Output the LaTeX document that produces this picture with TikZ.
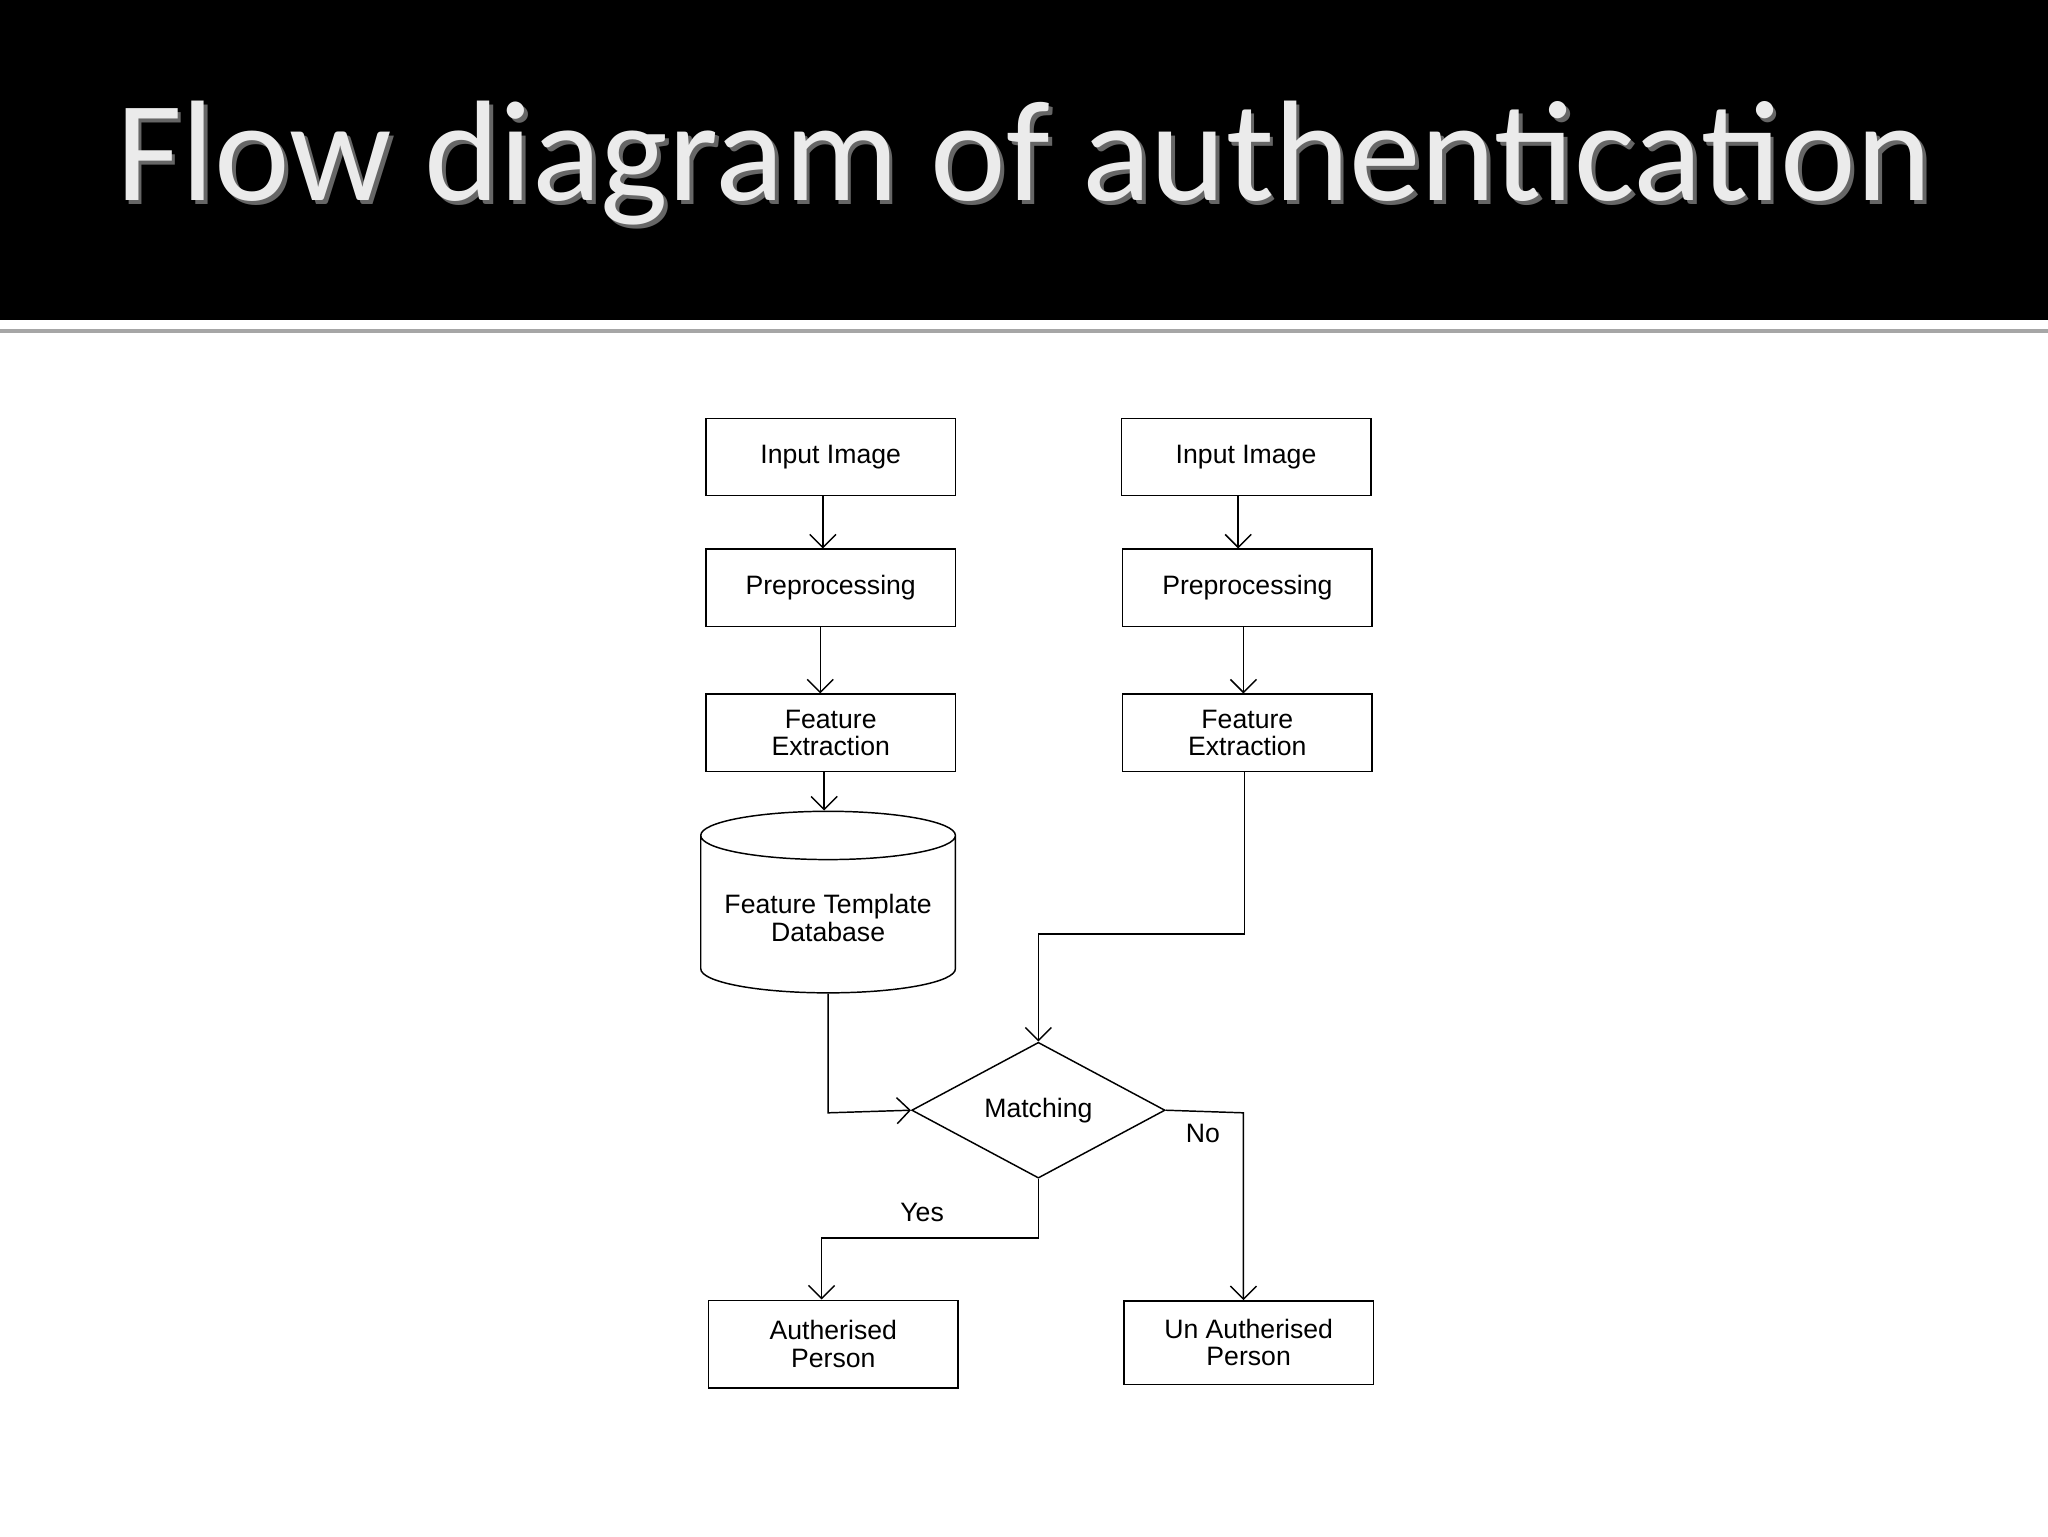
\documentclass[tikz,border=0pt]{standalone}
\usepackage{fontspec}
\setmainfont{Liberation Sans}
\newfontfamily\titlefont{Carlito}[Scale=1]
\usetikzlibrary{shapes.geometric,arrows.meta}
\begin{document}
\begin{tikzpicture}[x=0.25mm,y=-0.25mm,
  box/.style={draw,thick,minimum width=191*0.25mm,align=center,font=\fontsize{14.5}{15}\selectfont,inner sep=0pt},
  arr/.style={thick,-{Straight Barb[length=2.5mm,width=5mm]}},
  lbl/.style={font=\fontsize{14.5}{15}\selectfont}]
\useasboundingbox (0,0) rectangle (1568,1176);
\fill[black] (0,0) rectangle (1568,245);
\fill[gray!70] (0,252) rectangle (1568,255);
\node[text=black!60,font=\titlefont\fontsize{78}{80}\selectfont] at (787,128) {Flow diagram of authentication};
\node[text=black!8,font=\titlefont\fontsize{78}{80}\selectfont] (title) at (784,125) {Flow diagram of authentication};
\node[box,minimum height=59*0.25mm] (in1) at (636,350) {Input Image};
\node[box,minimum height=59*0.25mm] (pp1) at (636,450) {Preprocessing};
\node[box,minimum height=59*0.25mm] (fe1) at (636,561) {Feature\\Extraction};
\node[box,minimum height=59*0.25mm] (in2) at (954,350) {Input Image};
\node[box,minimum height=59*0.25mm] (pp2) at (955,450) {Preprocessing};
\node[box,minimum height=59*0.25mm] (fe2) at (955,561) {Feature\\Extraction};
\node[cylinder,shape border rotate=90,draw,thick,minimum width=195*0.25mm,minimum height=139*0.25mm,aspect=0.22,align=center,font=\fontsize{14.5}{15}\selectfont] (db) at (634,703) {Feature Template\\Database};
\node[diamond,draw,thick,minimum width=194*0.25mm,minimum height=104*0.25mm,inner sep=0pt,aspect=1.87,font=\fontsize{14.5}{15}\selectfont] (m) at (795,850) {Matching};
\node[box,minimum height=67*0.25mm] (ap) at (638,1029) {Autherised\\Person};
\node[box,minimum height=64*0.25mm] (up) at (956,1028) {Un Autherised\\Person};
\draw[arr] (in1.south -| 630,0) -- (pp1.north -| 630,0);
\draw[arr] (pp1.south -| 628,0) -- (fe1.north -| 628,0);
\draw[arr] (fe1.south -| 631,0) -- (db.north -| 631,0);
\draw[arr] (in2.south -| 948,0) -- (pp2.north -| 948,0);
\draw[arr] (pp2.south -| 952,0) -- (fe2.north -| 952,0);
\coordinate (c1) at (953,715);
\coordinate (c2) at (795,715);
\draw[arr] (fe2.south -| c1) -- (c1) -- (c2) -- (m.north);
\coordinate (c3) at (634,852);
\draw[arr] (db.south -| c3) -- (c3) -- (m.west);
\coordinate (c4) at (795,948);
\coordinate (c5) at (629,948);
\draw[arr] (m.south) -- (c4) -- (c5) -- (ap.north -| c5);
\coordinate (c6) at (952,852);
\draw[arr] (m.east) -- (c6) -- (up.north -| c6);
\node[lbl] (yes) at (706,928) {Yes};
\node[lbl] (no) at (921,868) {No};
\end{tikzpicture}
\end{document}
